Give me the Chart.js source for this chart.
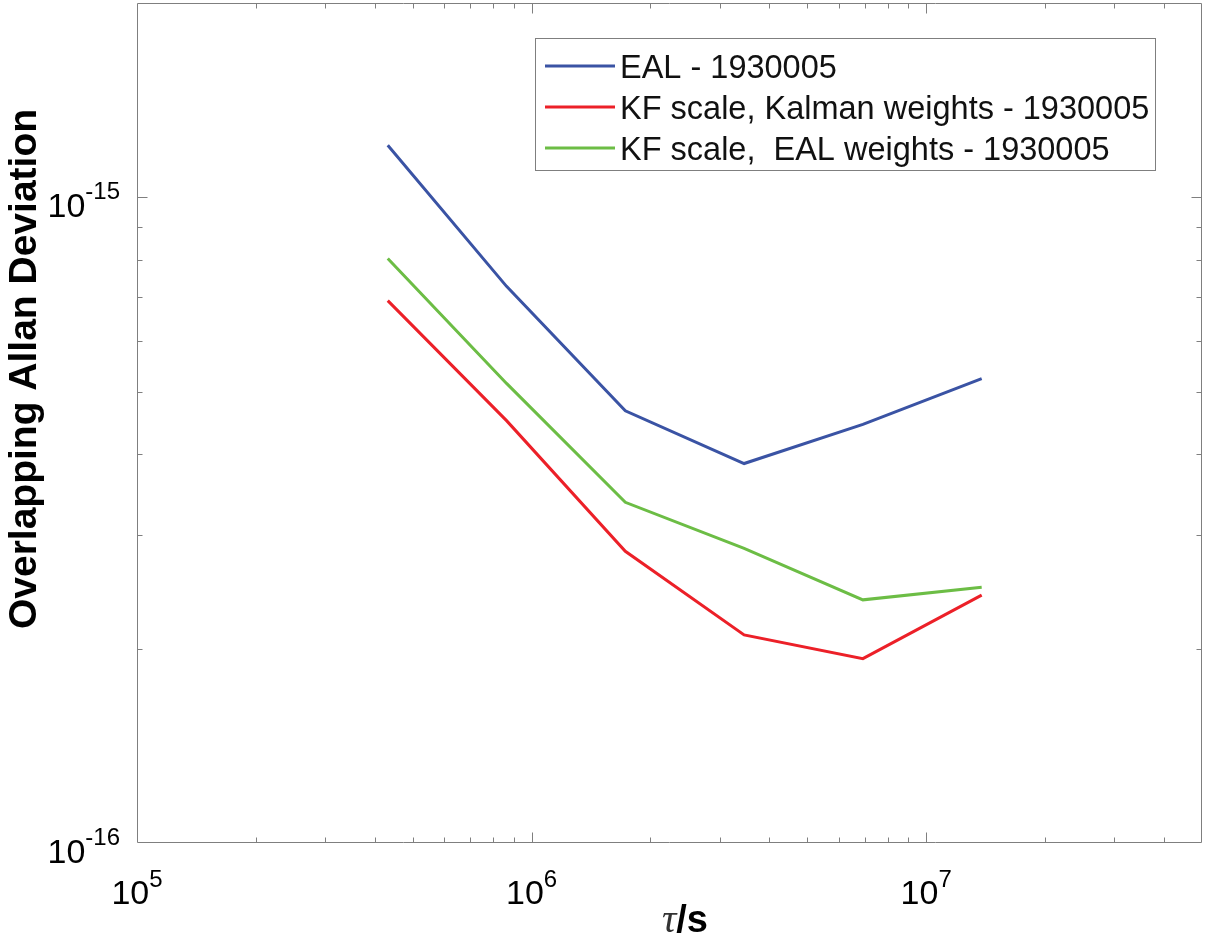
<!DOCTYPE html>
<html>
<head>
<meta charset="utf-8">
<script src="https://cdn.jsdelivr.net/npm/chart.js@4/dist/chart.umd.min.js"></script>
<style>
html,body{margin:0;padding:0;background:#ffffff;}
#wrap{width:1205px;height:943px;position:relative;}
canvas{display:block;}
</style>
</head>
<body>
<div id="wrap"><canvas id="c" width="1205" height="943"></canvas></div>
<script>
// ---- data ----
const tau = [4.32e5, 8.64e5, 1.728e6, 3.456e6, 6.912e6, 1.3824e7];
const ealSeries = [1.204e-15, 7.28e-16, 4.67e-16, 3.87e-16, 4.45e-16, 5.24e-16];
const kfKalmanSeries = [6.92e-16, 4.51e-16, 2.83e-16, 2.10e-16, 1.93e-16, 2.42e-16];
const kfEalSeries = [8.04e-16, 5.15e-16, 3.37e-16, 2.86e-16, 2.38e-16, 2.49e-16];
const seriesLabels = ['EAL - 1930005', 'KF scale, Kalman weights - 1930005', 'KF scale,  EAL weights - 1930005'];
const xTickExponents = [5, 6, 7];
const yTickExponents = [-16, -15];
const minorMultipliers = [2, 3, 4, 5, 6, 7, 8, 9];
const xLimits = [1e5, 5e7];
const yLimits = [1e-16, 2e-15];
const xTitleParts = ['τ', '/s'];
const yTitle = 'Overlapping Allan Deviation';

// ---- styles ----
const seriesColors = ['#3a53a4', '#ec2028', '#6cbd45'];
const axisColor = '#7f7f7f';
const SANS = '"Liberation Sans", Arial, Helvetica, sans-serif';

const toPts = arr => arr.map((v, i) => ({x: tau[i], y: v}));
const allSeries = [ealSeries, kfKalmanSeries, kfEalSeries];

const deco = {
  id: 'deco',
  afterDraw(chart) {
    const ctx = chart.ctx;
    const a = chart.chartArea;
    const xs = chart.scales.x, ys = chart.scales.y;
    ctx.save();
    ctx.strokeStyle = axisColor;
    ctx.lineWidth = 1;
    const L = Math.round(a.left) + 0.5, R = Math.round(a.right) - 0.5;
    const T = Math.round(a.top) + 0.5, B = Math.round(a.bottom) - 0.5;
    ctx.beginPath();
    ctx.rect(L, T, R - L, B - T);
    ctx.stroke();

    // x ticks
    const xt = [];
    for (let e = Math.floor(Math.log10(xLimits[0])); e <= Math.ceil(Math.log10(xLimits[1])); e++) {
      const base = Math.pow(10, e);
      xt.push({v: base, major: true});
      minorMultipliers.forEach(m => xt.push({v: m * base, major: false}));
    }
    ctx.beginPath();
    xt.forEach(t => {
      if (t.v <= xLimits[0] * 1.0001 || t.v >= xLimits[1] * 0.9999) return;
      const px = Math.round(xs.getPixelForValue(t.v)) + 0.5;
      const len = t.major ? 10 : 5;
      ctx.moveTo(px, B); ctx.lineTo(px, B - len);
      ctx.moveTo(px, T); ctx.lineTo(px, T + len);
    });
    // y ticks
    const yt = [];
    for (let e = Math.floor(Math.log10(yLimits[0]) + 1e-9); e <= Math.ceil(Math.log10(yLimits[1])); e++) {
      const base = Math.pow(10, e);
      yt.push({v: base, major: true});
      minorMultipliers.forEach(m => yt.push({v: m * base, major: false}));
    }
    yt.forEach(t => {
      if (t.v <= yLimits[0] * 1.0001 || t.v >= yLimits[1] * 0.9999) return;
      const py = Math.round(ys.getPixelForValue(t.v)) + 0.5;
      const len = t.major ? 10 : 5;
      ctx.moveTo(L, py); ctx.lineTo(L + len, py);
      ctx.moveTo(R, py); ctx.lineTo(R - len, py);
    });
    ctx.stroke();

    // tick labels
    ctx.fillStyle = '#000';
    ctx.textBaseline = 'alphabetic';
    const baseFont = '34px ' + SANS, expFont = '24px ' + SANS;
    xTickExponents.forEach(e => {
      const px = xs.getPixelForValue(Math.pow(10, e));
      ctx.font = baseFont; const w1 = ctx.measureText('10').width;
      ctx.font = expFont; const w2 = ctx.measureText(String(e)).width;
      const x0 = px - (w1 + w2) / 2;
      ctx.textAlign = 'left';
      ctx.font = baseFont; ctx.fillText('10', x0, 904);
      ctx.font = expFont; ctx.fillText(String(e), x0 + w1, 887);
    });
    yTickExponents.forEach(e => {
      const py = ys.getPixelForValue(Math.pow(10, e));
      ctx.font = baseFont; const w1 = ctx.measureText('10').width;
      ctx.font = expFont; const es = '-' + String(Math.abs(e)); const w2 = ctx.measureText(es).width;
      const x0 = 120 - (w1 + w2);
      ctx.textAlign = 'left';
      ctx.font = baseFont; ctx.fillText('10', x0, py + 20);
      ctx.font = expFont; ctx.fillText(es, x0 + w1, py + 2);
    });

    // axis titles
    ctx.save();
    ctx.translate(36, 369);
    ctx.rotate(-Math.PI / 2);
    ctx.textAlign = 'center';
    ctx.font = 'bold 39px ' + SANS;
    ctx.fillText(yTitle, 0, 0);
    ctx.restore();

    const f1 = 'italic 40px "Liberation Serif", "Times New Roman", serif';
    const f2 = 'bold 38px ' + SANS;
    ctx.font = f1; const tw1 = ctx.measureText(xTitleParts[0]).width;
    ctx.font = f2; const tw2 = ctx.measureText(xTitleParts[1]).width;
    const tx = 685 - (tw1 + tw2) / 2;
    ctx.textAlign = 'left';
    ctx.fillStyle = '#333';
    ctx.font = f1; ctx.fillText(xTitleParts[0], tx, 932);
    ctx.fillStyle = '#000';
    ctx.font = f2; ctx.fillText(xTitleParts[1], tx + tw1, 932);

    // legend
    const lx = 535.5, ly = 38.5, lw = 620, lh = 132;
    ctx.fillStyle = '#fff';
    ctx.fillRect(lx, ly, lw, lh);
    ctx.strokeStyle = axisColor;
    ctx.lineWidth = 1;
    ctx.strokeRect(lx, ly, lw, lh);
    const rowBase = [78, 119, 160];
    chart.data.datasets.forEach((ds, i) => {
      const yb = rowBase[i];
      ctx.strokeStyle = ds.borderColor;
      ctx.lineWidth = 3;
      ctx.beginPath();
      ctx.moveTo(545, yb - 12);
      ctx.lineTo(615, yb - 12);
      ctx.stroke();
      ctx.fillStyle = '#111';
      ctx.font = '32.5px ' + SANS;
      ctx.textAlign = 'left';
      ctx.fillText(ds.label, 620, yb);
    });
    ctx.restore();
  }
};

new Chart(document.getElementById('c'), {
  type: 'line',
  data: {
    datasets: allSeries.map((s, i) => ({
      label: seriesLabels[i],
      data: toPts(s),
      borderColor: seriesColors[i],
      backgroundColor: seriesColors[i],
      borderWidth: 3,
      pointRadius: 0,
      tension: 0,
      fill: false
    }))
  },
  options: {
    responsive: false,
    animation: false,
    devicePixelRatio: 1,
    layout: {padding: {left: 0, top: 3, right: 3, bottom: 0}},
    plugins: {legend: {display: false}, tooltip: {enabled: false}, title: {display: false}},
    scales: {
      x: {
        type: 'logarithmic',
        min: xLimits[0], max: xLimits[1],
        ticks: {display: false},
        grid: {display: false},
        border: {display: false},
        afterFit: s => { s.height = 100; }
      },
      y: {
        type: 'logarithmic',
        min: yLimits[0], max: yLimits[1],
        ticks: {display: false},
        grid: {display: false},
        border: {display: false},
        afterFit: s => { s.width = 137; }
      }
    }
  },
  plugins: [deco]
});
</script>
</body>
</html>
